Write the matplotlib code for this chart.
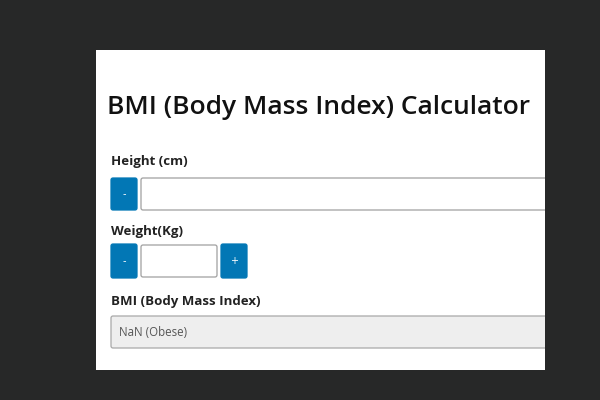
import matplotlib.pyplot as plt
from matplotlib.patches import FancyBboxPatch, Rectangle

title = "BMI (Body Mass Index) Calculator"
labels = ["Height (cm)", "Weight(Kg)", "BMI (Body Mass Index)"]
result_text = "NaN (Obese)"
blue = "#0277b5"

fig = plt.figure(figsize=(6, 4), dpi=100)
fig.patch.set_facecolor("#272828")
ax = fig.add_axes([0, 0, 1, 1])
ax.set_xlim(0, 600)
ax.set_ylim(400, 0)
ax.axis("off")

# white card
ax.add_patch(Rectangle((96, 50), 449, 320, facecolor="white", edgecolor="none"))

ax.text(107, 107, title, fontsize=19, fontfamily="Open Sans", fontweight="semibold",
        color="#111111", va="center")

def box(x, y, w, h, fc, ec):
    ax.add_patch(FancyBboxPatch((x, y), w, h, boxstyle="round,pad=0,rounding_size=2",
                                facecolor=fc, edgecolor=ec, linewidth=0.9))

def button(x, y, w, h, s):
    box(x, y, w, h, blue, blue)
    ax.text(x + w / 2, y + h / 2, s, color="white", fontsize=7, ha="center", va="center")

lab_y = [162, 231, 301]
for t, y in zip(labels, lab_y):
    ax.text(111, y, t, fontsize=9.5, fontfamily="Open Sans", fontweight="bold",
            color="#222222", va="center")

# height row
button(111, 178, 26, 32, "-")
box(141, 178, 420, 32, "white", "#a0a0a0")
# weight row
button(111, 244, 26, 34, "-")
box(141, 245, 76, 32, "white", "#a0a0a0")
button(221, 244, 26, 34, "+")
# result
box(111, 316, 440, 32, "#eeeeee", "#a8a8a8")
ax.text(119, 332, result_text, fontsize=8.3, fontfamily="Open Sans", color="#555555", va="center")

# clip right edge of card
ax.add_patch(Rectangle((545, 50), 60, 330, facecolor="#272828", edgecolor="none", zorder=5))

fig.savefig("out.png", dpi=100, facecolor=fig.get_facecolor())
